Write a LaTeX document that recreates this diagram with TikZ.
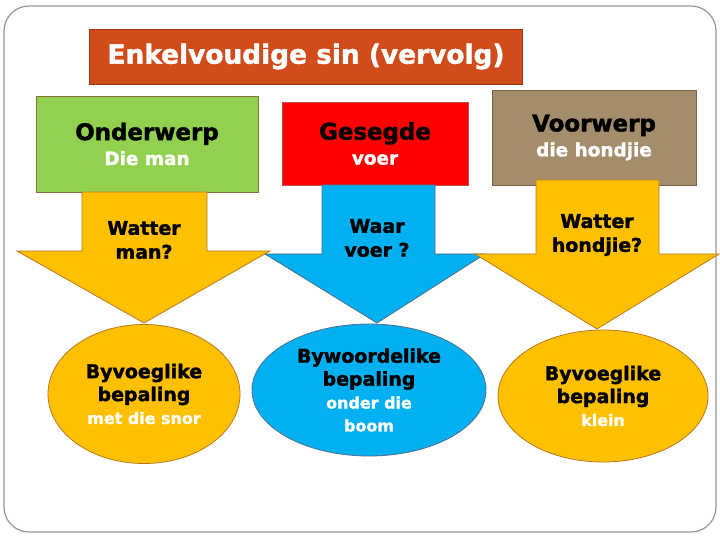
\documentclass[tikz,border=0pt]{standalone}
\usepackage{fontspec}
\setmainfont{DejaVu Sans}[BoldFeatures={FakeBold=1.6}]
\usetikzlibrary{shapes.geometric}

\definecolor{titlered}{RGB}{209,75,27}
\definecolor{titleline}{RGB}{160,55,20}
\definecolor{subjgreen}{RGB}{146,208,80}
\definecolor{subjline}{RGB}{140,110,60}
\definecolor{predred}{RGB}{255,0,0}
\definecolor{predline}{RGB}{190,75,72}
\definecolor{objbrown}{RGB}{163,141,107}
\definecolor{objline}{RGB}{125,100,70}
\definecolor{argold}{RGB}{255,192,0}
\definecolor{argoldline}{RGB}{185,120,30}
\definecolor{arblue}{RGB}{0,176,240}
\definecolor{arblueline}{RGB}{80,110,140}
\definecolor{framegrey}{RGB}{150,150,150}

\newcommand{\subsize}{\fontsize{18.5}{25}\selectfont\color{white}}
\newcommand{\smallsub}{\fontsize{16}{23}\selectfont\color{white}}

\begin{document}
\begin{tikzpicture}[x=1bp, y=-1bp, line width=0.8pt,
		box/.style = {draw, rectangle, inner sep=0pt, align=center, font=\bfseries\fontsize{23}{25}\selectfont},
		blob/.style = {draw, ellipse, inner sep=0pt, align=center, font=\bfseries\fontsize{19}{23}\selectfont},
		question/.style = {align=center, inner sep=0pt, font=\bfseries\fontsize{19}{24}\selectfont},
		gold/.style = {fill=argold, draw=argoldline},
		blue/.style = {fill=arblue, draw=arblueline}]
		
		\useasboundingbox (0,0) rectangle (720,540);
		\draw[framegrey, line width=1.2pt, rounded corners=25bp] (4,6) rectangle (716,532);
		
		\node[box, fill=titlered, draw=titleline, minimum width=433bp, minimum height=55bp, text=white,
			font=\bfseries\fontsize{26.5}{30}\selectfont] (title) at (306,56.5) {Enkelvoudige sin (vervolg)};
		
		\node[box, fill=subjgreen, draw=subjline, minimum width=222bp, minimum height=96bp] (subj) at (147,144) {Onderwerp\\{\subsize Die man}};
		\node[box, fill=predred, draw=predline, minimum width=186bp, minimum height=83bp] (pred) at (375,143.5) {Gesegde\\{\subsize voer}};
		\node[box, fill=objbrown, draw=objline, minimum width=204bp, minimum height=95bp] (obj) at (594,137.5) {Voorwerp\\{\subsize die hondjie}};
		
		% arrows
		\draw[gold] (82,192) -- (207,192) -- (207,251) -- (270,251) -- (144,323) -- (17,251) -- (82,251) -- cycle;
		\draw[blue] (322,185) -- (435,185) -- (435,254) -- (485,254) -- (377,323) -- (265,254) -- (322,254) -- cycle;
		\draw[gold] (536,180) -- (659,180) -- (659,254) -- (719,254) -- (597,329) -- (475,254) -- (536,254) -- cycle;
		
		\node[question] (q1) at (144,240) {Watter\\man?};
		\node[question] (q2) at (377,238) {Waar\\voer ?};
		\node[question] (q3) at (597,235) {Watter\\hondjie?};
		
		\node[blob, gold, minimum width=192bp, minimum height=139bp] (adj1) at (144,394) {Byvoeglike\\bepaling\\{\smallsub met die snor}};
		\node[blob, blue, minimum width=234bp, minimum height=132bp] (adv) at (369,390) {Bywoordelike\\bepaling\\{\smallsub onder die}\\{\smallsub boom}};
		\node[blob, gold, minimum width=210bp, minimum height=132bp] (adj2) at (603,396) {Byvoeglike\\bepaling\\{\smallsub klein}};
		
	\end{tikzpicture}
\end{document}
